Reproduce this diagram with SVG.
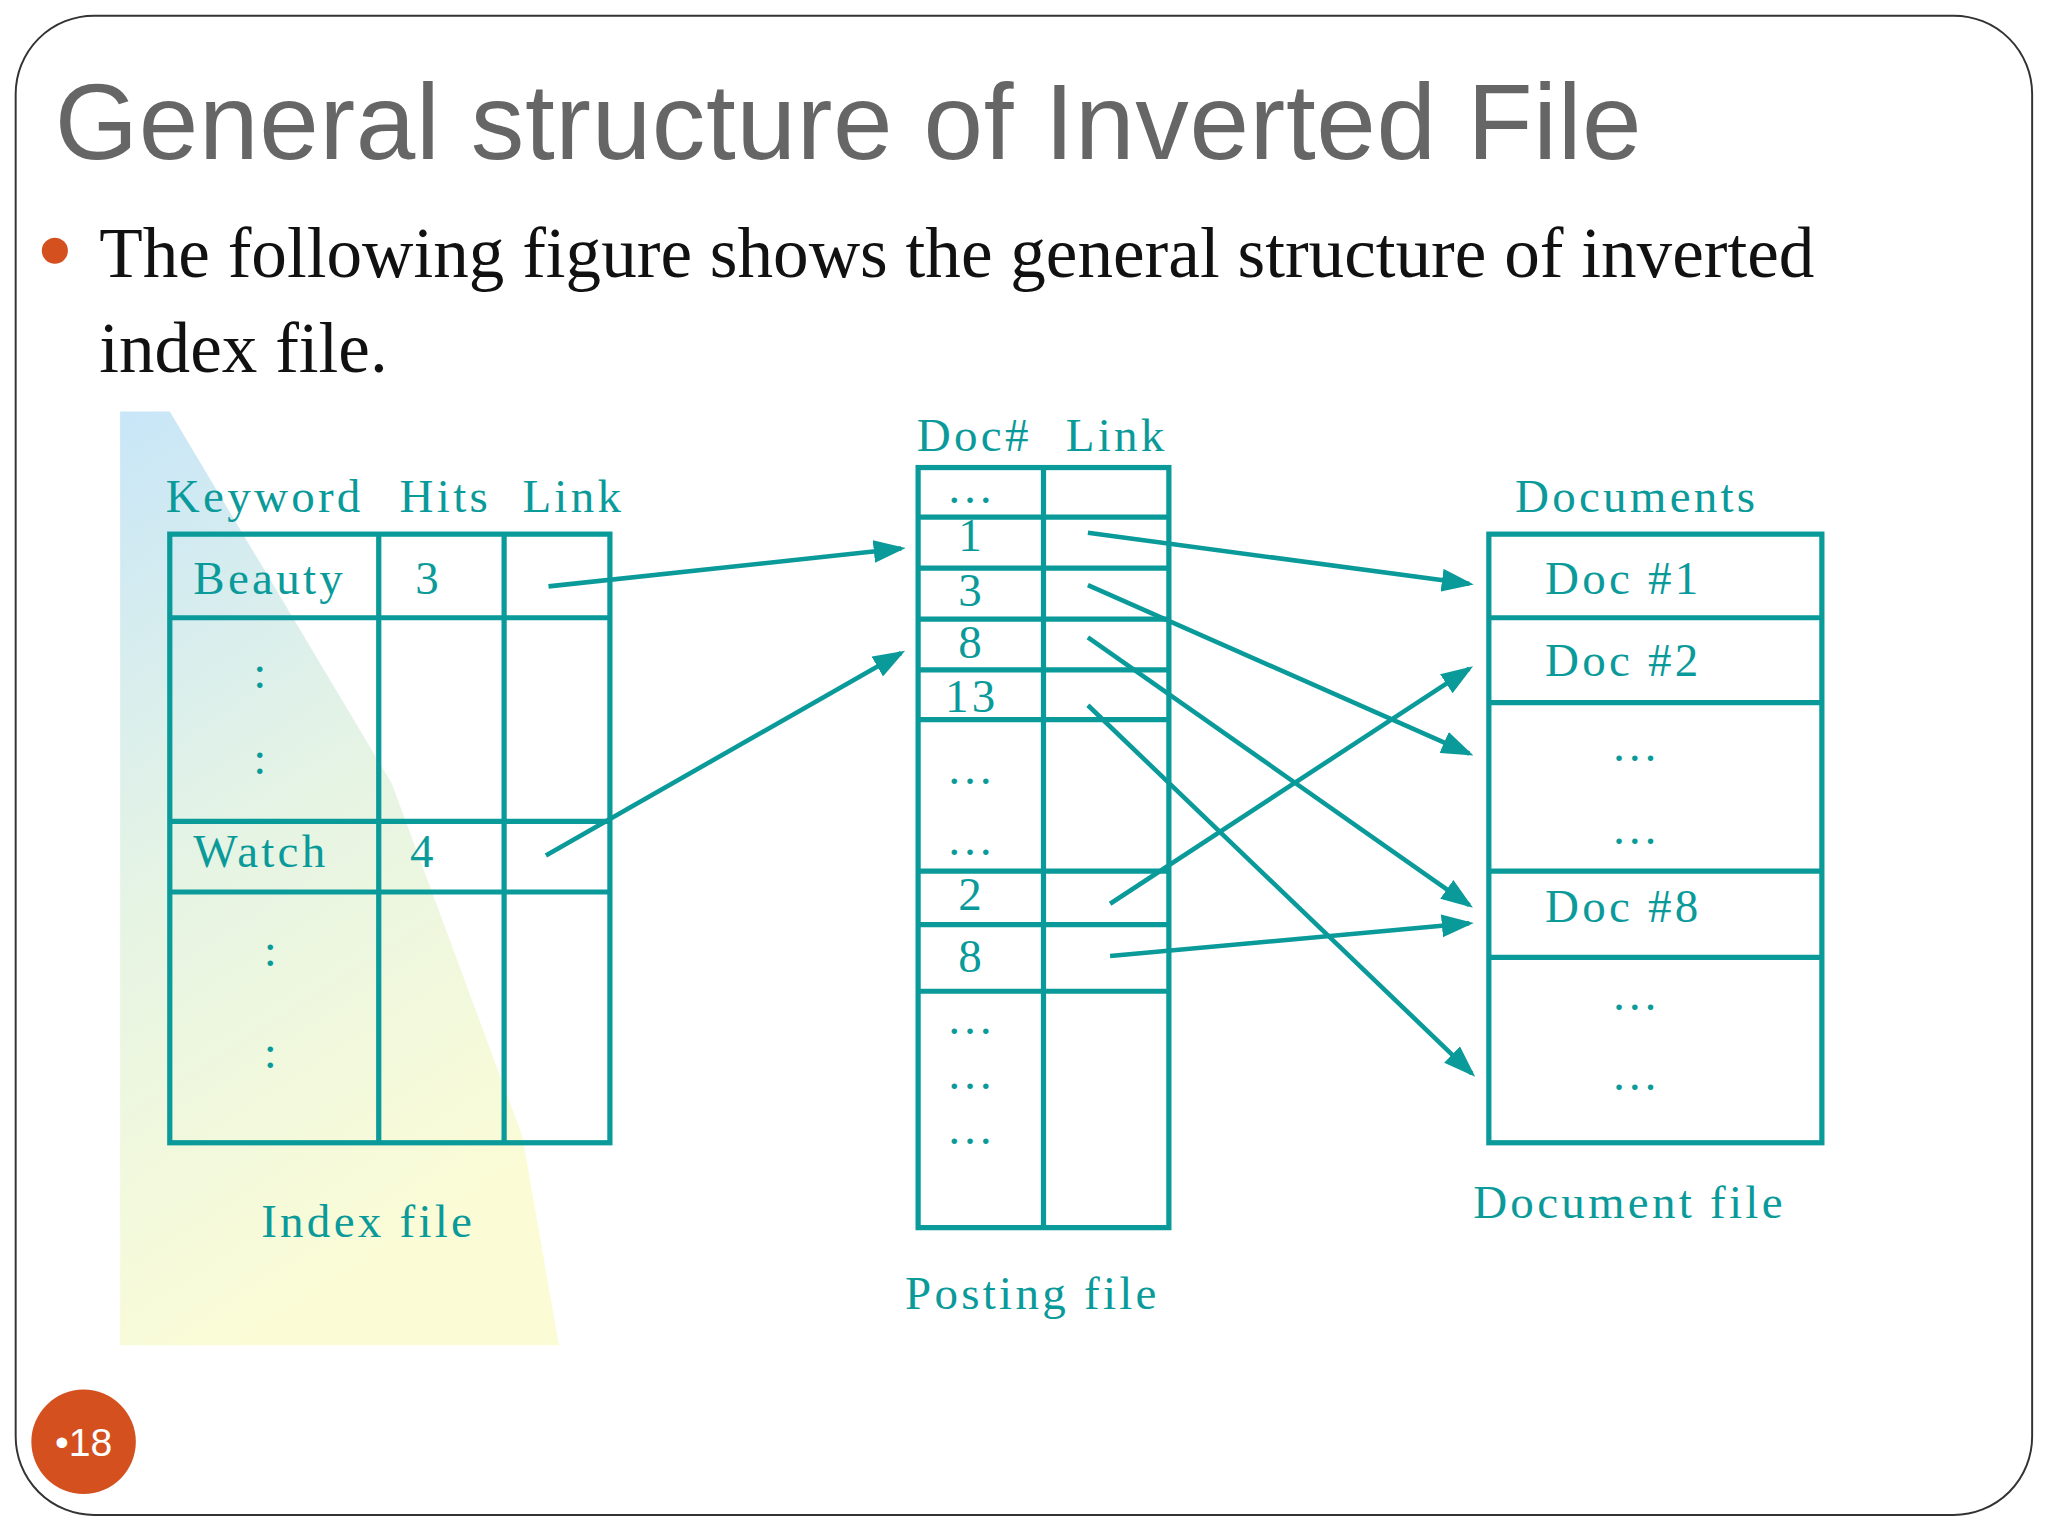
<svg xmlns="http://www.w3.org/2000/svg" width="2048" height="1536" viewBox="0 0 2048 1536">
<defs>
<linearGradient id="g" x1="0" y1="0" x2="0.3" y2="1">
<stop offset="0" stop-color="#c8e6f8"/><stop offset="0.5" stop-color="#e6f4e4"/><stop offset="1" stop-color="#fbfcd6"/>
</linearGradient>
<marker id="a" markerWidth="7" markerHeight="5" refX="6" refY="2.5" orient="auto" markerUnits="strokeWidth"><path d="M0,0 L7,2.5 L0,5 Z" fill="#0a9a9a"/></marker>
<style>
.t{fill:none;stroke:#0a9a9a;stroke-width:4}
.l{font-family:"Liberation Serif",serif;fill:#0a9a9a;font-size:36px;letter-spacing:2.5px}
.c{stroke:#0a9a9a;stroke-width:3.5;fill:none;marker-end:url(#a)}
</style>
</defs>
<rect width="2048" height="1536" fill="#fff"/>
<g transform="scale(1.306,1.306)">
<rect x="12" y="12" width="1544" height="1148" rx="60" fill="none" stroke="#333" stroke-width="1.5"/>
<text x="42" y="122" font-family="Liberation Sans,sans-serif" font-size="82" letter-spacing="0.5" fill="#666">General structure of Inverted File</text>
<circle cx="42" cy="192" r="10" fill="#d5501f"/>
<text font-family="Liberation Serif,serif" font-size="54.5" fill="#111"><tspan x="76" y="212">The following figure shows the general structure of inverted</tspan><tspan x="76" y="285">index file.</tspan></text>
<polygon points="92,315 130,315 300,600 400,870 428,1030 92,1030" fill="url(#g)"/>
<g id="index">
<rect class="t" x="130" y="409" width="337" height="466"/>
<path class="t" d="M290,409V875M386,409V875M130,473H467M130,629H467M130,683H467"/>
<text class="l" x="127" y="392">Keyword</text><text class="l" x="306" y="392">Hits</text><text class="l" x="400" y="392">Link</text>
<text class="l" x="148" y="455">Beauty</text><text class="l" x="318" y="455">3</text>
<text class="l" x="194" y="527">:</text><text class="l" x="194" y="593">:</text>
<text class="l" x="148" y="664">Watch</text><text class="l" x="314" y="664">4</text>
<text class="l" x="202" y="740">:</text><text class="l" x="202" y="818">:</text>
<text class="l" x="200" y="947" letter-spacing="4">Index file</text>
</g>
<g id="posting">
<rect class="t" x="703" y="358" width="192" height="582"/>
<path class="t" d="M799,358V940M703,396H895M703,435H895M703,474H895M703,513H895M703,551H895M703,667H895M703,708H895M703,759H895"/>
<text class="l" x="702" y="345">Doc#</text><text class="l" x="816" y="345">Link</text>
<g text-anchor="middle">
<text class="l" x="744" y="385">…</text><text class="l" x="744" y="422">1</text><text class="l" x="744" y="464">3</text><text class="l" x="744" y="504">8</text><text class="l" x="744" y="545">13</text>
<text class="l" x="744" y="600">…</text><text class="l" x="744" y="655">…</text><text class="l" x="744" y="697">2</text><text class="l" x="744" y="744">8</text>
<text class="l" x="744" y="792">…</text><text class="l" x="744" y="834">…</text><text class="l" x="744" y="876">…</text>
</g>
<text class="l" x="693" y="1002" letter-spacing="4">Posting file</text>
</g>
<g id="documents">
<rect class="t" x="1140" y="409" width="255" height="466"/>
<path class="t" d="M1140,473H1395M1140,538H1395M1140,667H1395M1140,733H1395"/>
<text class="l" x="1160" y="392" letter-spacing="3.5">Documents</text>
<text class="l" x="1183" y="455" letter-spacing="3.5">Doc #1</text><text class="l" x="1183" y="518" letter-spacing="3.5">Doc #2</text>
<text class="l" x="1253" y="583" text-anchor="middle">…</text><text class="l" x="1253" y="646" text-anchor="middle">…</text>
<text class="l" x="1183" y="706" letter-spacing="3.5">Doc #8</text>
<text class="l" x="1253" y="773" text-anchor="middle">…</text><text class="l" x="1253" y="835" text-anchor="middle">…</text>
<text class="l" x="1128" y="933" letter-spacing="4">Document file</text>
</g>
<g id="connectors">
<path class="c" d="M420,449L690,420"/>
<path class="c" d="M418,655L690,500"/>
<path class="c" d="M833,408L1125,447"/>
<path class="c" d="M833,448L1125,577"/>
<path class="c" d="M833,488L1125,693"/>
<path class="c" d="M833,540L1127,822"/>
<path class="c" d="M850,692L1125,512"/>
<path class="c" d="M850,732L1125,707"/>
</g>
<circle cx="64" cy="1104" r="40" fill="#d5501f"/>
<text x="64" y="1115" text-anchor="middle" font-family="Liberation Sans,sans-serif" font-size="30" fill="#fff">•18</text>
</g>
</svg>
